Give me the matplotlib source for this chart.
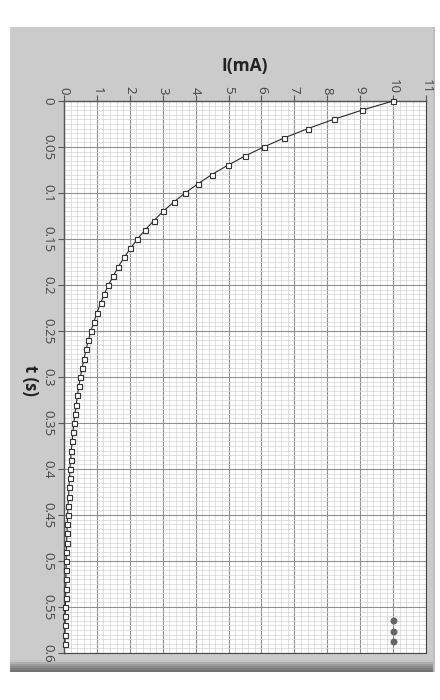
import matplotlib
matplotlib.use("Agg")
import matplotlib.pyplot as plt
from matplotlib.patches import Rectangle, Ellipse
from matplotlib.ticker import MultipleLocator, FixedLocator
import numpy as np

plt.rcParams['font.family'] = ['Open Sans', 'DejaVu Sans']

# Data
t_s = [0.00, 0.01, 0.02, 0.03, 0.04, 0.05, 0.06, 0.07, 0.08, 0.09,
       0.10, 0.11, 0.12, 0.13, 0.14, 0.15, 0.16, 0.17, 0.18, 0.19,
       0.20, 0.21, 0.22, 0.23, 0.24, 0.25, 0.26, 0.27, 0.28, 0.29,
       0.30, 0.31, 0.32, 0.33, 0.34, 0.35, 0.36, 0.37, 0.38, 0.39,
       0.40, 0.41, 0.42, 0.43, 0.44, 0.45, 0.46, 0.47, 0.48, 0.49,
       0.50, 0.51, 0.52, 0.53, 0.54, 0.55, 0.56, 0.57, 0.58, 0.59]
I_mA = [10.00, 9.05, 8.19, 7.41, 6.70, 6.07, 5.49, 4.97, 4.49, 4.07,
        3.68, 3.33, 3.01, 2.73, 2.47, 2.23, 2.02, 1.83, 1.65, 1.50,
        1.35, 1.22, 1.11, 1.00, 0.91, 0.82, 0.74, 0.67, 0.61, 0.55,
        0.50, 0.45, 0.41, 0.37, 0.33, 0.30, 0.27, 0.25, 0.22, 0.20,
        0.18, 0.17, 0.15, 0.14, 0.12, 0.11, 0.10, 0.09, 0.08, 0.07,
        0.07, 0.06, 0.06, 0.05, 0.05, 0.04, 0.04, 0.03, 0.03, 0.03]
I_ticks = list(range(0, 12))
t_ticks = [0, 0.05, 0.1, 0.15, 0.2, 0.25, 0.3, 0.35, 0.4, 0.45, 0.5, 0.55, 0.6]
t_tick_labels = ['0', '0.05', '0.1', '0.15', '0.2', '0.25', '0.3', '0.35',
                 '0.4', '0.45', '0.5', '0.55', '0.6']

W, H = 440, 700
fig = plt.figure(figsize=(W / 100, H / 100), dpi=100)
fig.patch.set_facecolor('white')

def fx(px):
    return px / W

def fy(py):
    return 1 - py / H

# grey panel
fig.patches.append(Rectangle((fx(10), fy(672)), fx(425), 645 / H,
                             transform=fig.transFigure, facecolor='#cbcbcb',
                             edgecolor='none', zorder=-3))
# bottom darker bar (gradient)
grad_cols = ['#c4c4c4', '#b0b0b0', '#9c9c9c', '#8c8c8c', '#7e7e7e', '#747474']
for i, c in enumerate(grad_cols):
    fig.patches.append(Rectangle((fx(10), fy(660 + 2 * (i + 1))), fx(425), 2 / H,
                                 transform=fig.transFigure, facecolor=c,
                                 edgecolor='none', zorder=-2))
# right edge
fig.patches.append(Rectangle((fx(433), fy(672)), fx(2), 645 / H,
                             transform=fig.transFigure, facecolor='#bdbdbd',
                             edgecolor='none', zorder=-1.5))

ax = fig.add_axes([fx(64), fy(653), fx(426 - 64), (653 - 101) / H])
ax.set_zorder(1)
ax.set_facecolor('white')
ax.plot(I_mA, t_s, color='#2a2a2a', lw=0.8, marker='s', markersize=3.6,
        markerfacecolor='white', markeredgecolor='#333333', markeredgewidth=0.8,
        zorder=5, clip_on=False)
ax.set_xlim(0, 11)
ax.set_ylim(0.6, 0)

ax.xaxis.set_major_locator(FixedLocator(I_ticks))
ax.xaxis.set_minor_locator(MultipleLocator(0.2))
ax.yaxis.set_major_locator(FixedLocator(t_ticks))
ax.yaxis.set_minor_locator(MultipleLocator(0.005))
ax.set_yticklabels(t_tick_labels)
ax.set_xticklabels([str(v) for v in I_ticks])

ax.xaxis.tick_top()
ax.tick_params(axis='x', which='major', top=True, bottom=False, length=4,
               width=0.8, color='#555555', labelsize=9.5, labelcolor='#444444',
               labelrotation=-90, pad=1)
ax.tick_params(axis='y', which='major', left=True, length=4, width=0.8,
               color='#555555', labelsize=9.5, labelcolor='#444444',
               labelrotation=-90, pad=3)
ax.tick_params(which='minor', length=0)
for lab in ax.get_yticklabels():
    lab.set_va('center')
    lab.set_ha('right')

ax.grid(which='major', color='#8f8f8f', lw=0.8)
ax.grid(which='minor', color='#d4d4d4', lw=0.5)
ax.set_axisbelow(True)
for side in ['left', 'top']:
    ax.spines[side].set_color('#555555')
    ax.spines[side].set_linewidth(1.0)
for side in ['right', 'bottom']:
    ax.spines[side].set_color('#444444')
    ax.spines[side].set_linewidth(0.8)

fig.text(fx(245), fy(66), 'I(mA)', ha='center', va='center', fontsize=12.5,
         fontweight='bold', color='#222222')
fig.text(fx(30), fy(380), 't (s)', ha='center', va='center', fontsize=12,
         fontweight='bold', color='#222222', rotation=-90)

# menu dots
for py in [621, 632, 642]:
    fig.patches.append(Ellipse((fx(394), fy(py)), 7 / W, 7 / H, transform=fig.transFigure,
                               facecolor='#666666', edgecolor='none', zorder=10))

fig.savefig('out.png', dpi=100, facecolor='white')
